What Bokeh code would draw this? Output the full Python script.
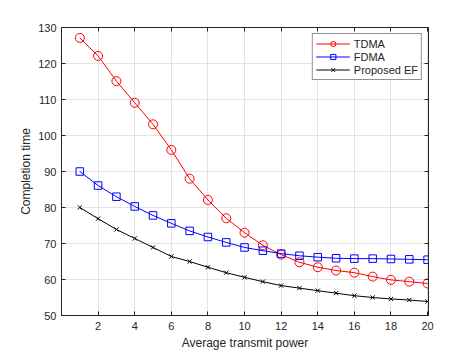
from bokeh.plotting import figure
from bokeh.models import Range1d, LinearAxis, FixedTicker, Legend, LegendItem, CustomJSTickFormatter
from bokeh.embed import file_html
from bokeh.resources import INLINE

power = list(range(1, 21))
tdma = [127.1, 122.1, 115.1, 109.1, 103.1, 96.0, 88.0, 82.1, 77.0, 73.0,
        69.5, 66.9, 64.8, 63.4, 62.5, 61.9, 60.8, 59.9, 59.4, 58.9]
fdma = [90.0, 86.1, 83.0, 80.3, 77.8, 75.6, 73.5, 71.8, 70.3, 68.9,
        68.0, 67.2, 66.6, 66.2, 65.9, 65.8, 65.8, 65.7, 65.6, 65.5]
ef = [80.0, 76.9, 73.9, 71.4, 68.9, 66.4, 65.0, 63.4, 61.9, 60.6,
      59.4, 58.3, 57.6, 56.9, 56.2, 55.5, 55.0, 54.6, 54.3, 53.9]
x_ticks = [2, 4, 6, 8, 10, 12, 14, 16, 18, 20]
y_ticks = [50, 60, 70, 80, 90, 100, 110, 120, 130]
names = ["TDMA", "FDMA", "Proposed EF"]

FONT = "Liberation Sans"
TXT = "#262626"

p = figure(width=474, height=355, output_backend="svg", toolbar_location=None,
           x_range=Range1d(0, 20.05), y_range=Range1d(50, 130),
           min_border_left=61, min_border_right=46, min_border_top=27, min_border_bottom=40)
p.background_fill_color = "white"
p.border_fill_color = "white"
p.outline_line_color = TXT

for ax, tk in ((p.xaxis[0], x_ticks), (p.yaxis[0], y_ticks)):
    ax.ticker = FixedTicker(ticks=tk)
    ax.major_tick_in = 4
    ax.major_tick_out = 0
    ax.minor_tick_in = 0
    ax.minor_tick_out = 0
    ax.axis_line_color = TXT
    ax.major_tick_line_color = TXT
    ax.major_label_text_font = FONT
    ax.major_label_text_font_size = "11px"
    ax.major_label_text_color = TXT
    ax.axis_label_text_font = FONT
    ax.axis_label_text_font_size = "12px"
    ax.axis_label_text_font_style = "normal"
    ax.axis_label_text_color = TXT

p.xaxis.axis_label = "Average transmit power"
p.yaxis.axis_label = "Completion time"
p.xaxis.major_label_standoff = 6
p.xaxis.axis_label_standoff = 3
p.yaxis.major_label_standoff = 5
p.yaxis.axis_label_standoff = 2

for loc, tk in (("above", x_ticks), ("right", y_ticks)):
    ax = LinearAxis(ticker=FixedTicker(ticks=tk),
                    formatter=CustomJSTickFormatter(code="return ''"))
    ax.major_tick_in = 4
    ax.major_tick_out = 0
    ax.minor_tick_in = 0
    ax.minor_tick_out = 0
    ax.major_label_standoff = 0
    ax.axis_line_color = TXT
    ax.major_tick_line_color = TXT
    p.add_layout(ax, loc)

p.xgrid.ticker = FixedTicker(ticks=x_ticks)
p.ygrid.ticker = FixedTicker(ticks=y_ticks)
p.xgrid.grid_line_color = "#e3e3e3"
p.ygrid.grid_line_color = "#e3e3e3"

l1 = p.line(power, tdma, line_color="red", line_width=1)
m1 = p.scatter(power, tdma, marker="circle", size=9, fill_color=None, line_color="red", line_width=1)
l2 = p.line(power, fdma, line_color="blue", line_width=1)
m2 = p.scatter(power, fdma, marker="square", size=7.5, fill_color=None, line_color="blue", line_width=1)
l3 = p.line(power, ef, line_color="black", line_width=1)
m3 = p.scatter(power, ef, marker="x", size=6, line_color="black", line_width=1)

legend = Legend(items=[LegendItem(label=names[0], renderers=[l1, m1]),
                       LegendItem(label=names[1], renderers=[l2, m2]),
                       LegendItem(label=names[2], renderers=[l3, m3])],
                location="top_right")
legend.margin = 6
legend.padding = 3
legend.spacing = 0
legend.glyph_width = 34
legend.glyph_height = 13
legend.label_height = 13
legend.label_standoff = 4
legend.label_text_font = FONT
legend.label_text_font_size = "11px"
legend.label_text_color = TXT
legend.border_line_color = TXT
legend.border_line_width = 1
legend.background_fill_color = "white"
legend.background_fill_alpha = 1
p.add_layout(legend)

open("out.html", "w").write(file_html(p, INLINE))
